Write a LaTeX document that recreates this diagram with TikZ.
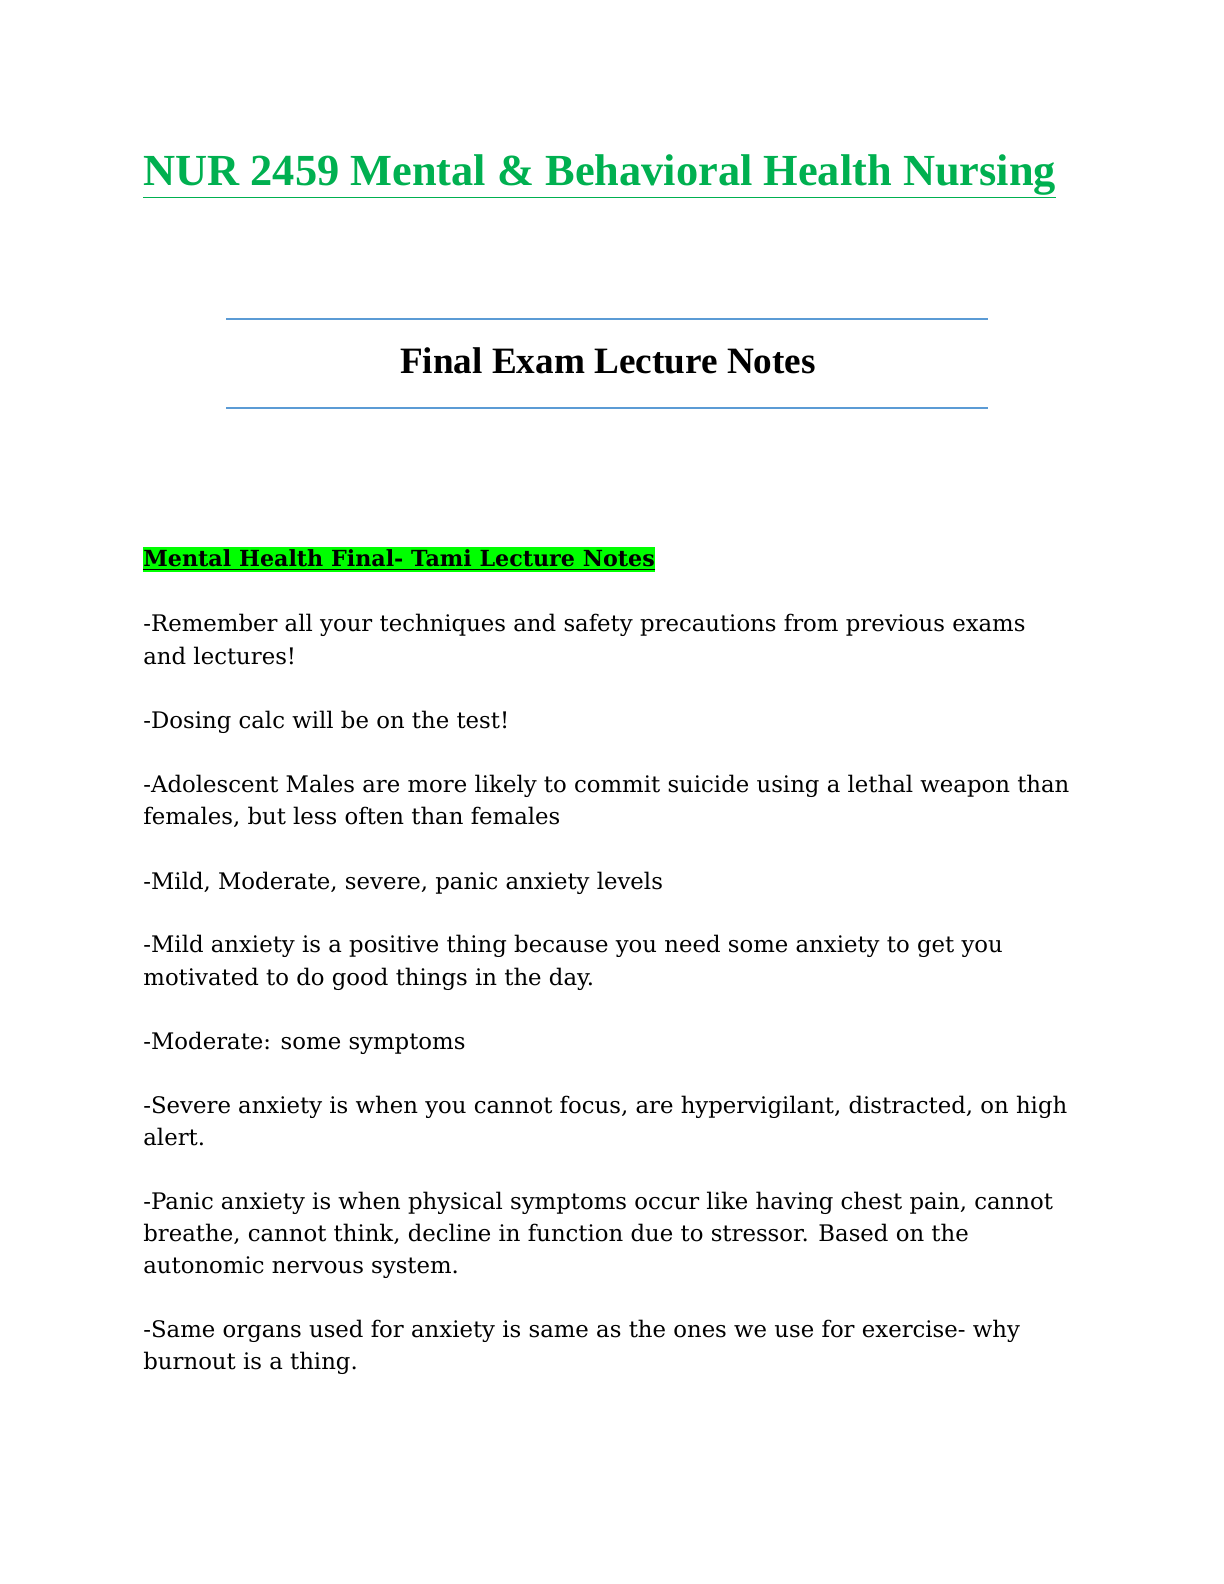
\documentclass[tikz,border=0pt]{standalone}
\usepackage{fontspec}
\setmainfont{DejaVu Serif}
\newfontfamily\ttlfont{Liberation Serif}
\definecolor{ttlgreen}{RGB}{0,176,80}
\definecolor{rule}{RGB}{91,155,213}
\definecolor{hl}{RGB}{0,255,0}
\begin{document}
\begin{tikzpicture}[x=1pt,y=1pt,
 body/.style={anchor=base west,inner sep=0pt,font=\fontsize{11.4}{13}\selectfont}]
\useasboundingbox (0,0) rectangle (612,-792);
\node[anchor=base west,inner sep=0pt,text=ttlgreen,font=\ttlfont\bfseries\fontsize{22.2}{25}\selectfont] (t) at (71.5,-92.5) {\underline{NUR 2459 Mental \& Behavioral Health Nursing}};
\draw[rule,line width=0.6pt] (113,-159.5) -- (494,-159.5);
\node[anchor=base,inner sep=0pt,font=\ttlfont\bfseries\fontsize{18.6}{21}\selectfont] (f) at (304,-186.5) {Final Exam Lecture Notes};
\draw[rule,line width=0.6pt] (113,-204) -- (494,-204);
\node[anchor=base west,inner xsep=0pt,inner ysep=1pt,fill=hl,font=\bfseries\fontsize{11.1}{13}\selectfont] (h) at (71.5,-283) {\underline{Mental Health Final- Tami Lecture Notes}};
\foreach \y/\t in {
 313/{-Remember all your techniques and safety precautions from previous exams},
 329.5/{and lectures!},
 361.5/{-Dosing calc will be on the test!},
 393.5/{-Adolescent Males are more likely to commit suicide using a lethal weapon than},
 409.5/{females, but less often than females},
 442/{-Mild, Moderate, severe, panic anxiety levels},
 473.5/{-Mild anxiety is a positive thing because you need some anxiety to get you},
 490/{motivated to do good things in the day.},
 522/{-Moderate: some symptoms},
 554/{-Severe anxiety is when you cannot focus, are hypervigilant, distracted, on high},
 570/{alert.},
 602/{-Panic anxiety is when physical symptoms occur like having chest pain, cannot},
 618/{breathe, cannot think, decline in function due to stressor. Based on the},
 634/{autonomic nervous system.},
 666/{-Same organs used for anxiety is same as the ones we use for exercise- why},
 682/{burnout is a thing.}}
 \node[body] at (71.5,-\y-2.5) {\t};
\end{tikzpicture}
\end{document}
